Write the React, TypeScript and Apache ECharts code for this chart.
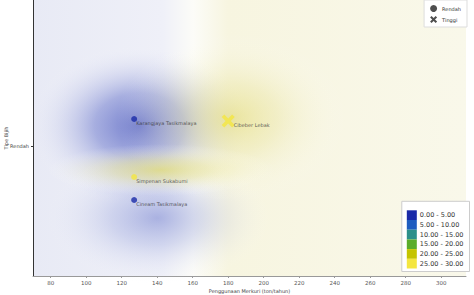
import React, { useEffect, useRef } from "react";
import * as echarts from "echarts";

// Sites (points)
const siteNames = ["Karangjaya Tasikmalaya", "Cibeber Lebak", "Simpenan Sukabumi", "Cineam Tasikmalaya"];
const mercuryUse = [127, 180, 127, 127];
const siteLevel = [0.27, 0.25, -0.31, -0.54];
const siteValue = [2, 28, 27, 2];
const siteGroup = ["Rendah", "Tinggi", "Rendah", "Rendah"];

// Interpolated surface blobs
const blobX = [130, 140, 182, 142];
const blobY = [0.2, -0.72, 0.28, -0.24];
const blobValue = [2, 4, 26, 27];

const yTickLabels = ["Rendah"];
const pieceMins = [0, 5, 10, 15, 20, 25];
const pieceMaxs = [5, 10, 15, 20, 25, 30];
const pieceColors = ["#1a2aa8", "#1d5cc0", "#2b8f8a", "#5aac2c", "#c4c400", "#f4e640"];

const blobStyles = [
  { size: [225, 165], c0: "rgba(60,75,185,0.9)", c1: "rgba(80,95,195,0.55)" },
  { size: [230, 135], c0: "rgba(95,110,200,0.6)", c1: "rgba(120,135,210,0.32)" },
  { size: [230, 170], c0: "rgba(228,220,120,0.8)", c1: "rgba(232,226,150,0.45)" },
  { size: [230, 52], c0: "rgba(228,222,110,0.9)", c1: "rgba(235,230,150,0.6)" },
];

const XPATH = "path://M2,0 L5,3 L8,0 L10,2 L7,5 L10,8 L8,10 L5,7 L2,10 L0,8 L3,5 L0,2 Z";

export default function App() {
  const ref = useRef<HTMLDivElement>(null);
  useEffect(() => {
    const chart = echarts.init(ref.current!, null, { renderer: "svg" });
    const blobSeries = blobX.map((x, i) => ({
      type: "scatter",
      silent: true,
      z: 1,
      symbol: "circle",
      symbolSize: blobStyles[i].size,
      data: [[x, blobY[i], blobValue[i]]],
      itemStyle: {
        color: {
          type: "radial", x: 0.5, y: 0.5, r: 0.5,
          colorStops: [
            { offset: 0, color: blobStyles[i].c0 },
            { offset: 0.4, color: blobStyles[i].c1 },
            { offset: 1, color: "rgba(255,255,255,0)" },
          ],
        },
      },
    }));
    const groups = ["Rendah", "Tinggi"];
    const pointSeries = groups.map((g) => ({
      name: g,
      type: "scatter",
      z: 5,
      symbol: g === "Tinggi" ? XPATH : "circle",
      symbolSize: g === "Tinggi" ? 13 : 6,
      itemStyle: { color: "#222" },
      label: {
        show: true,
        position: "right",
        distance: 0,
        offset: [-1, 4],
        fontSize: 5,
        color: "#333",
        fontFamily: "DejaVu Sans",
        formatter: (p: any) => p.name,
      },
      data: siteNames
        .map((n, i) => ({ name: n, value: [mercuryUse[i], siteLevel[i], siteValue[i]], g: siteGroup[i] }))
        .filter((d) => d.g === g)
        .map((d) => ({ name: d.name, value: d.value })),
    }));
    chart.setOption({
      animation: false,
      textStyle: { fontFamily: "DejaVu Sans" },
      grid: {
        left: 33, right: 8, top: 0, bottom: 19, show: true, borderWidth: 0,
        containLabel: false, outerBoundsMode: "none",
        backgroundColor: {
          type: "linear", x: 0, y: 0, x2: 1, y2: 0,
          colorStops: [
            { offset: 0, color: "#e8eaf5" },
            { offset: 0.3, color: "#eff0f8" },
            { offset: 0.37, color: "#fcfcf8" },
            { offset: 0.45, color: "#f7f5e0" },
            { offset: 1, color: "#f9f8ea" },
          ],
        },
      },
      legend: {
        right: 7, top: 0, orient: "vertical",
        backgroundColor: "#fff", borderColor: "#ddd", borderWidth: 1,
        padding: [5, 6, 4, 6], itemWidth: 7, itemHeight: 7, itemGap: 4,
        textStyle: { fontSize: 5, color: "#333" },
        data: [
          { name: "Rendah", icon: "circle" },
          { name: "Tinggi", icon: XPATH },
        ],
      },
      visualMap: {
        type: "piecewise",
        seriesIndex: [4, 5],
        dimension: 2,
        right: 4, bottom: 23,
        orient: "vertical",
        inverse: true,
        align: "left",
        backgroundColor: "#fff", borderColor: "#ccc", borderWidth: 1,
        padding: [9, 6, 3, 5],
        itemWidth: 10, itemHeight: 9.7, itemGap: 0, itemSymbol: "rect",
        textGap: 3,
        textStyle: { fontSize: 6.5, color: "#333" },
        pieces: pieceMins.map((m, i) => ({
          min: m, max: pieceMaxs[i], color: pieceColors[i],
          label: `${m.toFixed(2)} - ${pieceMaxs[i].toFixed(2)}`,
        })),
      },
      xAxis: {
        type: "value", min: 70, max: 314, interval: 10,
        name: "Penggunaan Merkuri (ton/tahun)", nameLocation: "middle", nameGap: 12,
        nameMoveOverlap: false,
        nameTextStyle: { fontSize: 5, color: "#444" },
        axisLine: { onZero: false, lineStyle: { color: "#999" } },
        axisTick: { customValues: [80, 100, 120, 140, 160, 180, 200, 220, 240, 260, 280, 300], length: 2, lineStyle: { color: "#999" } },
        axisLabel: { customValues: [80, 100, 120, 140, 160, 180, 200, 220, 240, 260, 280, 300], fontSize: 5.5, color: "#555", margin: 4 },
        splitLine: { show: false },
      },
      yAxis: {
        type: "value", min: -1.3, max: 1.46,
        name: "Tipe Bijih", nameLocation: "middle", nameGap: 25,
        nameMoveOverlap: false,
        nameTextStyle: { fontSize: 5, color: "#444" },
        axisLine: { show: true, onZero: false, lineStyle: { color: "#333" } },
        axisTick: { customValues: [0], length: 2, lineStyle: { color: "#333" } },
        axisLabel: { customValues: [0], formatter: () => yTickLabels[0], fontSize: 5, color: "#444", margin: 4 },
        splitLine: { show: false },
      },
      series: [...blobSeries, ...pointSeries],
    });
    return () => chart.dispose();
  }, []);
  return <div ref={ref} style={{ width: 474, height: 295, position: "absolute", left: 0, top: 0 }} />;
}
